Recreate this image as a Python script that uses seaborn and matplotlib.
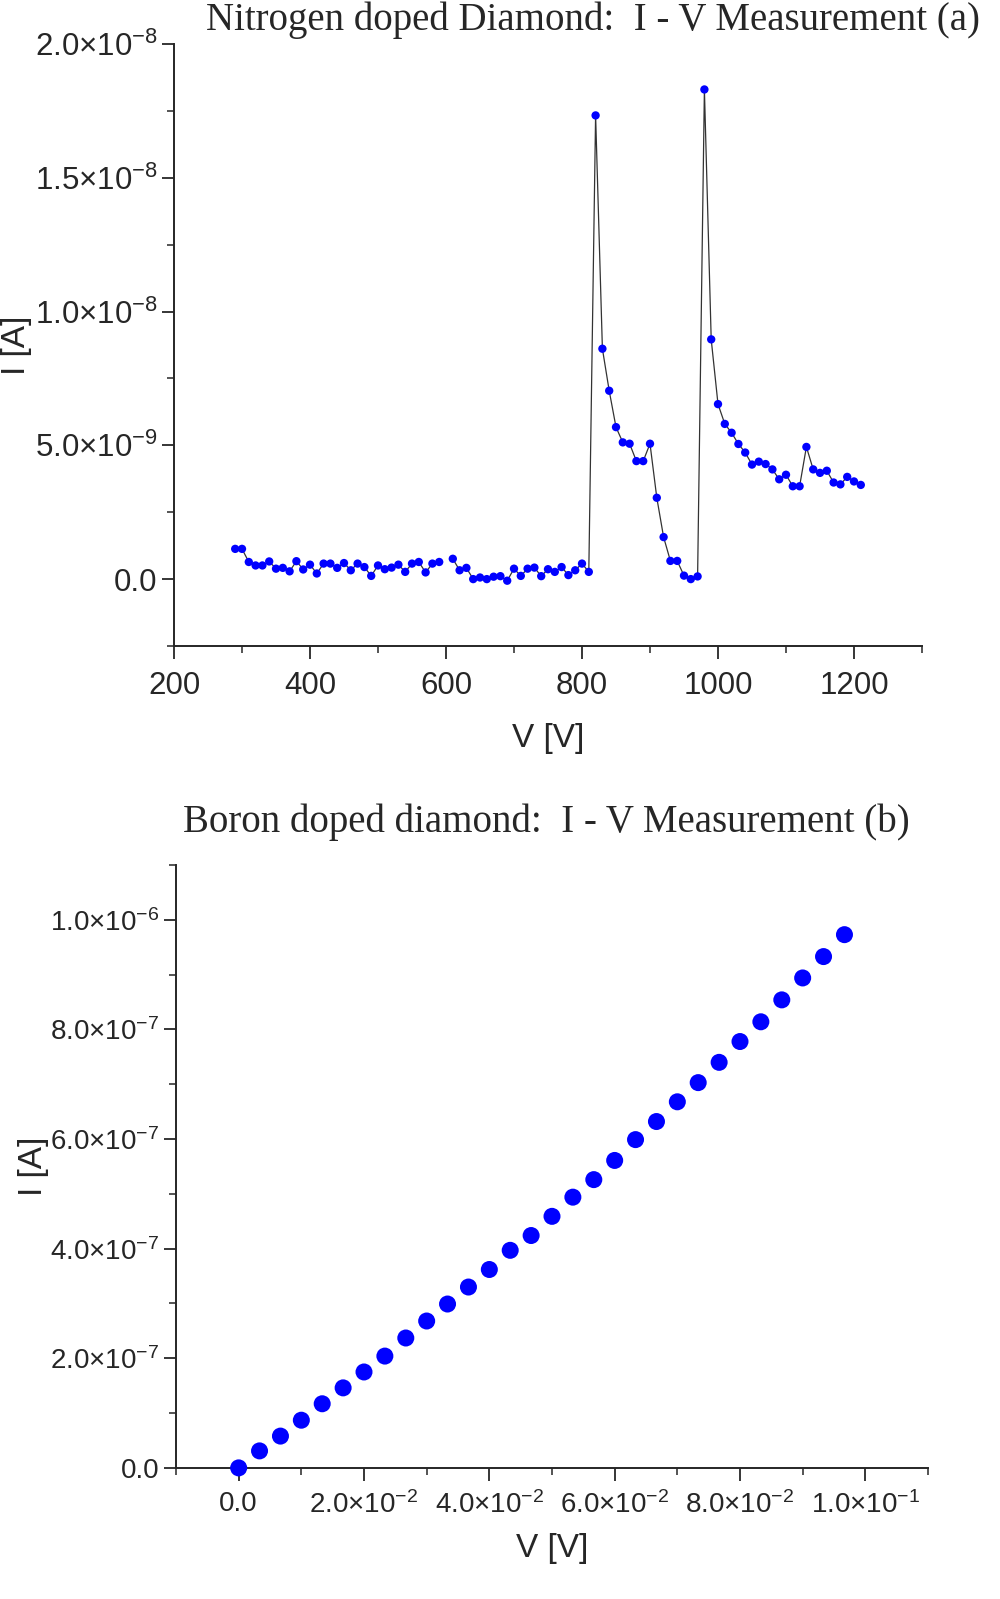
import numpy as np
import pandas as pd
import matplotlib
matplotlib.use("Agg")
import matplotlib.pyplot as plt
import seaborn as sns
from matplotlib.ticker import MultipleLocator, FuncFormatter

# (a) nitrogen doped diamond, V in volts, I in units of 1e-9 A (nan = missing reading)
n_volt = [290, 300, 310, 320, 330, 340, 350, 360, 370, 380, 390, 400, 410, 420,
          430, 440, 450, 460, 470, 480, 490, 500, 510, 520, 530, 540, 550, 560,
          570, 580, 590, 600, 610, 620, 630, 640, 650, 660, 670, 680, 690, 700,
          710, 720, 730, 740, 750, 760, 770, 780, 790, 800, 810, 820, 830, 840,
          850, 860, 870, 880, 890, 900, 910, 920, 930, 940, 950, 960, 970, 980,
          990, 1000, 1010, 1020, 1030, 1040, 1050, 1060, 1070, 1080, 1090, 1100,
          1110, 1120, 1130, 1140, 1150, 1160, 1170, 1180, 1190, 1200, 1210]
n_curr = [1.13, 1.13, 0.64, 0.51, 0.51, 0.66, 0.39, 0.42, 0.29, 0.67, 0.36, 0.54,
          0.21, 0.58, 0.58, 0.42, 0.60, 0.33, 0.58, 0.45, 0.12, 0.51, 0.37, 0.43,
          0.54, 0.27, 0.58, 0.64, 0.25, 0.58, 0.64, np.nan, 0.76, 0.33, 0.42, 0.0,
          0.06, 0.0, 0.09, 0.11, -0.06, 0.39, 0.12, 0.39, 0.43, 0.11, 0.37, 0.27,
          0.45, 0.15, 0.33, 0.58, 0.27, 17.33, 8.61, 7.04, 5.68, 5.11, 5.06, 4.41,
          4.41, 5.06, 3.04, 1.57, 0.68, 0.68, 0.13, 0.0, 0.10, 18.30, 8.96, 6.54,
          5.80, 5.47, 5.05, 4.73, 4.28, 4.39, 4.30, 4.10, 3.73, 3.90, 3.47, 3.47,
          4.94, 4.10, 3.97, 4.05, 3.61, 3.54, 3.82, 3.65, 3.52]

# (b) boron doped diamond, V in volts, I in units of 1e-7 A
b_volt = [0.0, 0.00333, 0.00667, 0.01, 0.01333, 0.01667, 0.02, 0.02333, 0.02667,
          0.03, 0.03333, 0.03667, 0.04, 0.04333, 0.04667, 0.05, 0.05333, 0.05667,
          0.06, 0.06333, 0.06667, 0.07, 0.07333, 0.07667, 0.08, 0.08333, 0.08667,
          0.09, 0.09333, 0.09667]
b_curr = [0.0, 0.31, 0.58, 0.87, 1.17, 1.46, 1.75, 2.04, 2.37, 2.68, 2.99, 3.30,
          3.62, 3.97, 4.24, 4.59, 4.94, 5.26, 5.61, 5.99, 6.32, 6.68, 7.03, 7.40,
          7.78, 8.14, 8.54, 8.94, 9.33, 9.73]

df_n = pd.DataFrame({"V": n_volt, "I": np.array(n_curr) * 1e-9})
df_n["run"] = (df_n["I"].isna()).cumsum()
df_b = pd.DataFrame({"V": b_volt, "I": np.array(b_curr) * 1e-7})

sns.set_theme(style="ticks")
plt.rcParams["font.family"] = ["Liberation Sans", "DejaVu Sans"]
plt.rcParams["mathtext.default"] = "regular"
plt.rcParams["axes.linewidth"] = 1.4


def sci(v, pos):
    if abs(v) < 1e-30:
        return "0.0"
    e = int(np.floor(np.log10(abs(v)) + 1e-9))
    m = v / 10 ** e
    return f"{m:.1f}\u00d710$^{{{e}}}$"


fig = plt.figure(figsize=(10, 15.99), dpi=100)
ax1 = fig.add_axes([0.174, 0.596, 0.748, 0.3765])
ax2 = fig.add_axes([0.176, 0.082, 0.752, 0.377])

# top panel
sns.lineplot(data=df_n.dropna(), x="V", y="I", units="run", estimator=None,
             color="#333333", linewidth=0.9, ax=ax1)
sns.scatterplot(data=df_n, x="V", y="I", color="blue", s=36, edgecolor="none",
                ax=ax1, zorder=3)
ax1.set_xlim(200, 1300)
ax1.set_ylim(-2.5e-9, 2.0e-8)
ax1.xaxis.set_major_locator(MultipleLocator(200))
ax1.xaxis.set_minor_locator(MultipleLocator(100))
ax1.yaxis.set_major_locator(MultipleLocator(5e-9))
ax1.yaxis.set_minor_locator(MultipleLocator(2.5e-9))
ax1.yaxis.set_major_formatter(FuncFormatter(sci))
ax1.tick_params(axis="both", which="major", labelsize=22.5, length=9, width=1.3,
                direction="out")
ax1.tick_params(axis="both", which="minor", length=5, width=1.1, direction="out")
ax1.tick_params(axis="x", which="major", pad=9)
ax1.tick_params(axis="y", which="major", pad=3)
ax1.set_xlabel("V [V]", fontsize=24, labelpad=16)
ax1.set_ylabel("I [A]", fontsize=24, labelpad=2)
sns.despine(ax=ax1)
fig.text(0.593, 0.9875, "Nitrogen doped Diamond:  I - V Measurement (a)",
         ha="center", va="center", fontsize=28, family="Liberation Serif")

# bottom panel
sns.scatterplot(data=df_b, x="V", y="I", color="blue", s=150, edgecolor="none",
                ax=ax2, zorder=3, clip_on=False)
ax2.set_xlim(-0.01, 0.11)
ax2.set_ylim(0, 1.1e-6)
ax2.xaxis.set_major_locator(MultipleLocator(0.02))
ax2.xaxis.set_minor_locator(MultipleLocator(0.01))
ax2.yaxis.set_major_locator(MultipleLocator(2e-7))
ax2.yaxis.set_minor_locator(MultipleLocator(1e-7))
ax2.xaxis.set_major_formatter(FuncFormatter(sci))
ax2.yaxis.set_major_formatter(FuncFormatter(sci))
ax2.tick_params(axis="both", which="major", labelsize=20, length=9, width=1.3,
                direction="out")
ax2.tick_params(axis="both", which="minor", length=5, width=1.1, direction="out")
ax2.tick_params(axis="x", which="major", pad=8)
ax2.tick_params(axis="y", which="major", pad=3)
ax2.set_xlabel("V [V]", fontsize=24, labelpad=10)
ax2.set_ylabel("I [A]", fontsize=24, labelpad=1)
sns.despine(ax=ax2)
fig.text(0.546, 0.486, "Boron doped diamond:  I - V Measurement (b)",
         ha="center", va="center", fontsize=28, family="Liberation Serif")

fig.savefig("out.png", dpi=100, facecolor="white")
